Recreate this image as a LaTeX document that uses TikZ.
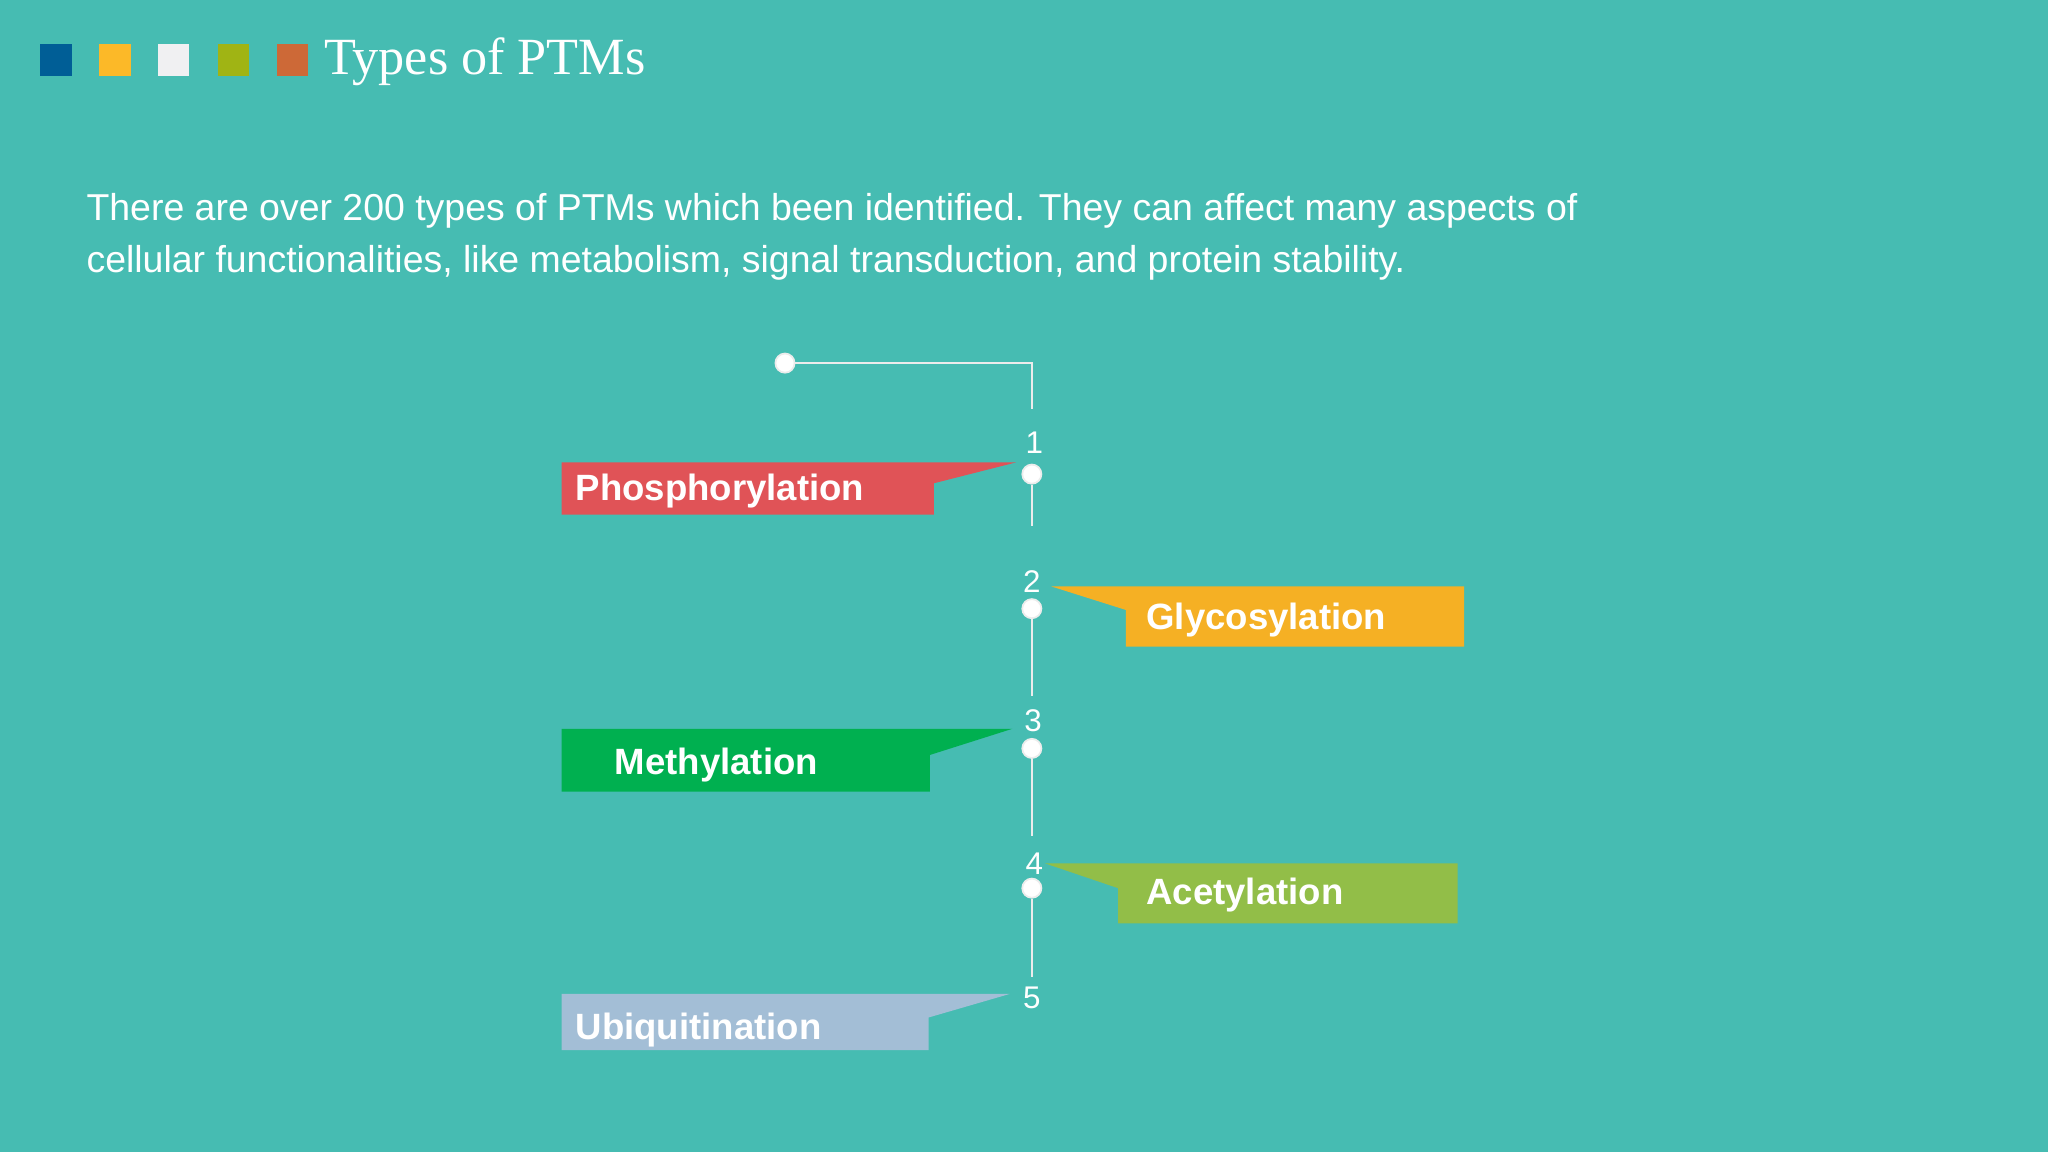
\documentclass[tikz,border=0pt]{standalone}
\usepackage{fontspec}
\setmainfont{Liberation Serif}
\setsansfont{Liberation Sans}
\begin{document}
\begin{tikzpicture}[x=0.75pt,y=-0.75pt,
  dot/.style={circle,draw=white!85!gray,fill=white,line width=1pt,minimum size=11pt,inner sep=0pt},
  ln/.style={draw=white!85!gray,line width=0.8pt},
  num/.style={text=white,font=\sffamily\fontsize{18}{20}\selectfont},
  lab/.style={text=white,font=\sffamily\bfseries\fontsize{21}{24}\selectfont,anchor=west},
  sq/.style={minimum size=18pt,inner sep=0pt}]
\fill[fill={rgb,255:red,70;green,188;blue,178}] (0,0) rectangle (1568,882);
\useasboundingbox (0,0) rectangle (1568,882);
% squares
\node[sq,fill={rgb,255:red,0;green,94;blue,150}] (s1) at (43,46) {};
\node[sq,fill={rgb,255:red,252;green,185;blue,40}] (s2) at (88,46) {};
\node[sq,fill={rgb,255:red,240;green,240;blue,242}] (s3) at (133,46) {};
\node[sq,fill={rgb,255:red,160;green,180;blue,20}] (s4) at (179,46) {};
\node[sq,fill={rgb,255:red,205;green,105;blue,55}] (s5) at (224,46) {};
\node[anchor=west,text=white,font=\fontsize{30}{34}\selectfont,inner sep=0pt] (title) at (248,47) {Types of PTMs};
\node[anchor=north west,text=white,align=left,inner sep=0pt,font=\sffamily\fontsize{21.5}{29.5}\selectfont] (para) at (66,148)
 {There are over 200 types of PTMs which been identified. They can affect many aspects of\\cellular functionalities, like metabolism, signal transduction, and protein stability.};
% timeline
\node[dot] (d0) at (601,278) {};
\coordinate (c0) at (790,278);
\node[dot] (d1) at (790,363) {};
\node[dot] (d2) at (790,466) {};
\node[dot] (d3) at (790,573) {};
\node[dot] (d4) at (790,680) {};
\coordinate (e) at (790,748);
\draw[ln] (d0) -- (c0) -- (790,313);
\draw[ln] (d1) -- (790,403);
\draw[ln] (d2) -- (790,533);
\draw[ln] (d3) -- (790,640);
\draw[ln] (d4) -- (e);
\node[num] (n1) at (792,339) {1};
\node[num] (n2) at (790,445) {2};
\node[num] (n3) at (791,552) {3};
\node[num] (n4) at (792,661) {4};
\node[num] (n5) at (790,764) {5};
% labels
\fill[fill={rgb,255:red,224;green,83;blue,87}] (430,354) -- (778,354) -- (715,370) -- (715,394) -- (430,394) -- cycle;
\node[lab] (l1) at (436,376) {Phosphorylation};
\fill[fill={rgb,255:red,245;green,176;blue,36}] (805,449) -- (1121,449) -- (1121,495) -- (862,495) -- (862,467) -- cycle;
\node[lab] (l2) at (873,475) {Glycosylation};
\fill[fill={rgb,255:red,0;green,176;blue,80}] (430,558) -- (775,558) -- (712,578) -- (712,606) -- (430,606) -- cycle;
\node[lab] (l3) at (466,586) {Methylation};
\fill[fill={rgb,255:red,146;green,190;blue,72}] (800,661) -- (1116,661) -- (1116,707) -- (856,707) -- (856,680) -- cycle;
\node[lab] (l4) at (873,685) {Acetylation};
\fill[fill={rgb,255:red,163;green,190;blue,214}] (430,761) -- (773,761) -- (711,779) -- (711,804) -- (430,804) -- cycle;
\node[lab] (l5) at (436,789) {Ubiquitination};
\end{tikzpicture}
\end{document}
